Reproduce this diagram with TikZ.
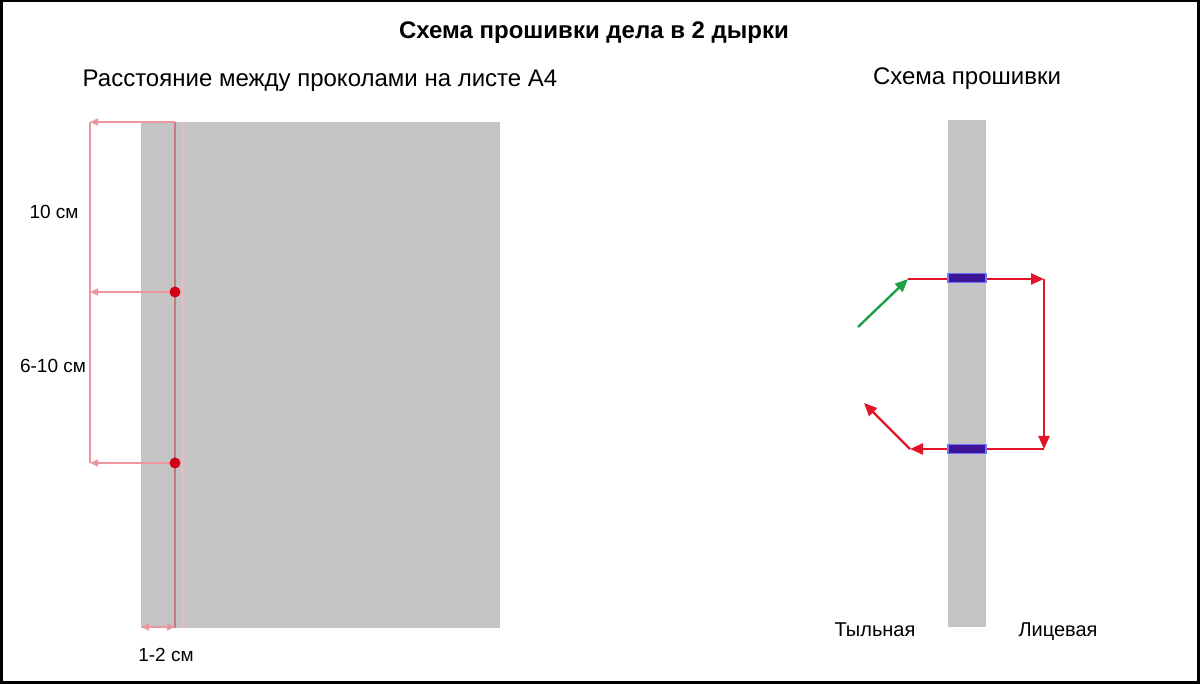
\documentclass[tikz,border=0pt]{standalone}
\usepackage{fontspec}
\setmainfont{Liberation Sans}
\usetikzlibrary{arrows.meta}
\definecolor{sheet}{RGB}{196,196,196}
\definecolor{pinkline}{RGB}{236,150,160}
\definecolor{darkpink}{RGB}{200,120,130}
\definecolor{dotred}{RGB}{210,0,20}
\definecolor{stitchred}{RGB}{225,20,40}
\definecolor{stitchgreen}{RGB}{30,160,70}
\definecolor{holeblue}{RGB}{60,20,150}
\tikzset{
  dimline/.style={pinkline, line width=1.6pt, -{Triangle[length=8pt,width=7pt]}},
  stitch/.style={stitchred, line width=2.4pt, -{Triangle[length=13pt,width=11pt]}},
  lbl/.style={font=\fontsize{19}{22}\selectfont, inner sep=0pt},
  hdr/.style={font=\fontsize{24}{28}\selectfont, inner sep=0pt},
  hole/.style={fill=holeblue, draw=blue!55, line width=1.2pt}
}
\begin{document}
\begin{tikzpicture}[x=1pt,y=-1pt]
\useasboundingbox (0,0) rectangle (1200,684);
\draw[black, line width=3pt] (1,0.5) rectangle (1198.5,682.5);
% titles
\node[hdr, font=\bfseries\fontsize{24}{28}\selectfont] (title) at (594,33) {Схема прошивки дела в 2 дырки};
\node[hdr] (lefthdr) at (320,81) {Расстояние между проколами на листе А4};
\node[hdr] (righthdr) at (967,79) {Схема прошивки};
% left sheet
\fill[sheet] (141,122) rectangle (500,628);
\coordinate (mtop) at (175,122);
\coordinate (mbot) at (175,628);
\draw[darkpink, line width=1.4pt] (mtop) -- (mbot);
\draw[pinkline!60, line width=0.8pt] (182,122) -- (182,628);
\node[circle, fill=dotred, inner sep=0pt, minimum size=11pt] (h1) at (175,292) {};
\node[circle, fill=dotred, inner sep=0pt, minimum size=11pt] (h2) at (175,463) {};
\coordinate (btop) at (90,122);
\coordinate (b1) at (90,292);
\coordinate (b2) at (90,463);
\draw[pinkline, line width=1.6pt] (btop) -- (b2);
\draw[dimline] (mtop) -- (btop);
\draw[dimline] (h1) -- (b1);
\draw[dimline] (h2) -- (b2);
\coordinate (e1) at (141,627);
\coordinate (e2) at (175,627);
\draw[pinkline, line width=1.6pt, {Triangle[length=8pt,width=7pt]}-{Triangle[length=8pt,width=7pt]}] (e1) -- (e2);
\node[lbl] (l10) at (54,212) {10 см};
\node[lbl] (l610) at (53,366) {6-10 см};
\node[lbl] (l12) at (166,655) {1-2 см};
% right scheme
\fill[sheet] (948,120) rectangle (986,627);
\coordinate (a0) at (858,327);
\coordinate (a1) at (908,279);
\coordinate (a2) at (1044,279);
\coordinate (a3) at (1044,449);
\coordinate (a4) at (910,449);
\coordinate (a5) at (864,403);
\draw[stitch] (a1) -- (a2);
\draw[stitch] (a2) -- (a3);
\draw[stitch] (a3) -- (a4);
\draw[stitch] (a4) -- (a5);
\draw[stitchgreen, line width=2.4pt, -{Triangle[length=13pt,width=11pt]}] (a0) -- (a1);
\node[hole, minimum width=38pt, minimum height=9pt, inner sep=0pt] (p1) at (967,278) {};
\node[hole, minimum width=38pt, minimum height=9pt, inner sep=0pt] (p2) at (967,449) {};
\node[lbl, font=\fontsize{20}{24}\selectfont] (back) at (875,630) {Тыльная};
\node[lbl, font=\fontsize{20}{24}\selectfont] (front) at (1058,632) {Лицевая};
\end{tikzpicture}
\end{document}
